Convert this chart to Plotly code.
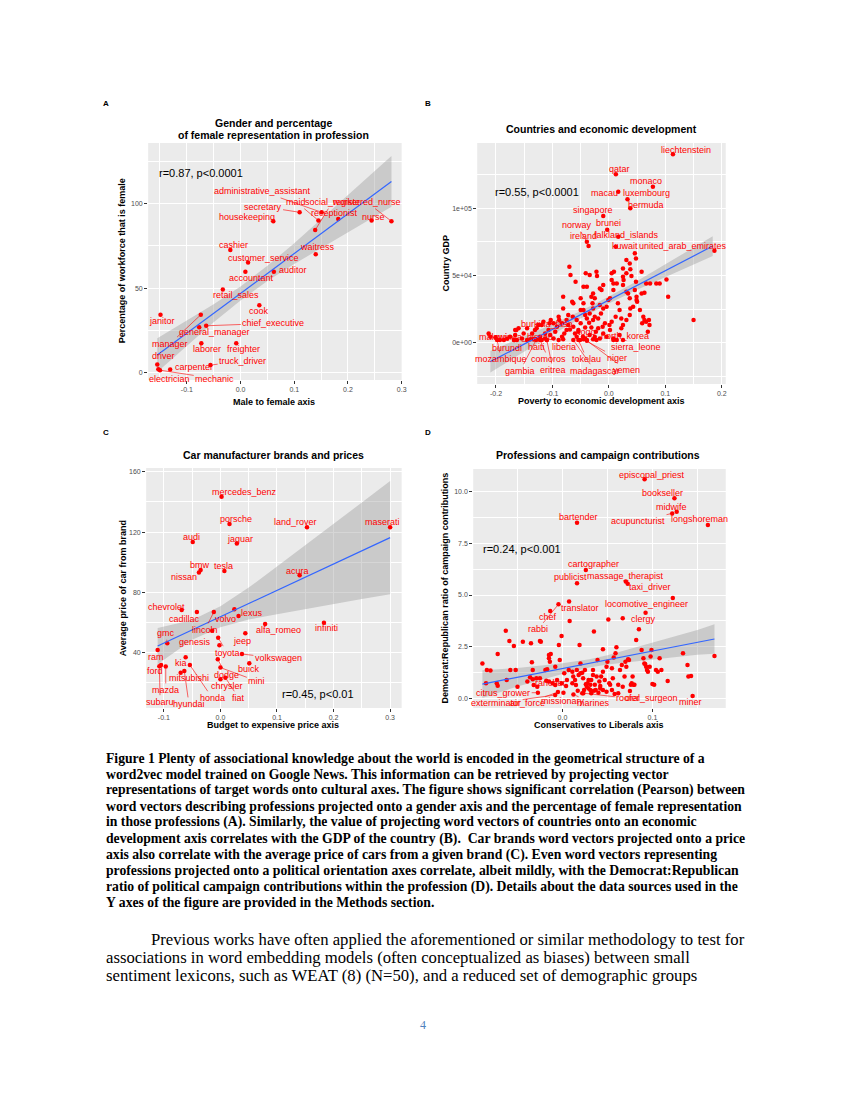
import plotly.graph_objects as go

# ---------------- DATA ----------------
# Panel A: gender axis vs % female in profession
A_names = ["administrative_assistant", "maid", "social_worker", "registered_nurse", "secretary",
           "receptionist", "nurse", "housekeeping", "cashier", "waitress", "customer_service",
           "accountant", "auditor", "retail_sales", "cook", "janitor", "manager", "general_manager",
           "chief_executive", "laborer", "freighter", "driver", "truck_driver", "carpenter",
           "electrician", "mechanic"]
A_x = [0.151, 0.145, 0.139, 0.281, 0.110, 0.182, 0.244, 0.061, -0.019, 0.140, 0.014, 0.009, 0.062,
       -0.033, 0.035, -0.149, -0.074, -0.077, -0.064, -0.073, -0.008, -0.155, -0.056, -0.131,
       -0.153, -0.150]
A_y = [94.8, 90.0, 84.3, 89.5, 94.8, 90.9, 89.9, 89.5, 72.6, 70.0, 65.1, 59.7, 59.7, 49.2, 39.9,
       34.3, 34.3, 27.0, 27.8, 17.5, 17.5, 5.0, 4.6, 2.0, 2.2, 1.6]
A_fit_x = [-0.155, -0.1, -0.05, 0.0, 0.05, 0.1, 0.15, 0.2, 0.25, 0.281]
A_fit_y = [10.5, 23.4, 35.2, 46.9, 58.7, 70.4, 82.2, 93.9, 105.7, 113.0]
A_lo = [0.5, 16.0, 29.9, 42.8, 54.2, 64.3, 73.8, 83.0, 92.3, 98.0]
A_hi = [20.5, 30.8, 40.5, 51.0, 63.2, 76.5, 90.6, 104.8, 119.1, 128.0]

# Panel B: poverty/development axis vs GDP
B_names = ["liechtenstein", "qatar", "monaco", "macau", "luxembourg", "bermuda", "singapore",
           "norway", "brunei", "ireland", "falkland_islands", "kuwait", "united_arab_emirates",
           "burkina_faso", "malawi", "guinea_bissau", "togo", "north_korea", "burundi", "haiti",
           "liberia", "sierra_leone", "mozambique", "comoros", "tokelau", "niger", "gambia",
           "eritrea", "madagascar", "yemen"]
B_x = [0.1135, 0.0124, 0.078, 0.0166, 0.033, 0.038, -0.010, -0.039, -0.003, -0.036, 0.0166, 0.0124,
       0.187, -0.128, -0.213, -0.166, -0.054, 0.008, -0.168, -0.134, -0.081, 0.025, -0.198, -0.122,
       -0.054, -0.045, -0.129, -0.110, -0.063, -0.039]
B_y = [140200, 125300, 116100, 112400, 106700, 100000, 94300, 75100, 84000, 72000, 78900, 71400,
       68500, 10700, 6900, 9400, 9400, 2000, 2000, 2500, 2500, 2000, 2000, 2000, 2000, 2500, 2000,
       2000, 2000, 1500]
B_other_x = [-0.070, -0.068, -0.041, -0.034, -0.059, -0.045, -0.039, -0.022, -0.021, -0.028, -0.031,
             -0.025, -0.016, -0.013, -0.010, 0.005, 0.008, 0.014, 0.025, 0.037, 0.046, 0.048, 0.038,
             0.040, 0.031, 0.025, 0.026, 0.019, 0.016, 0.008, 0.002, -0.001, -0.004, -0.014, -0.019,
             -0.028, -0.029, -0.034, -0.039, -0.045, -0.050, -0.063, -0.065, -0.081, -0.081, -0.089,
             -0.092, -0.098, -0.103, -0.105, -0.116, -0.119, -0.125, -0.131, -0.136, -0.145, -0.151,
             -0.160, -0.164, -0.166, -0.168, -0.163, -0.154, -0.175, -0.180, -0.186, -0.193, -0.201,
             -0.210, -0.110, -0.104, -0.098, -0.089, -0.083, -0.079, -0.075, -0.072, -0.069, -0.063,
             -0.060, -0.057, -0.054, -0.051, -0.046, -0.042, -0.039, -0.034, -0.028, -0.025, -0.022,
             -0.016, -0.010, -0.004, 0.002, 0.008, 0.014, 0.019, 0.022, 0.025, 0.031, 0.037, 0.038,
             0.043, 0.049, 0.050, 0.055, 0.059, 0.061, 0.063, 0.066, 0.069, 0.072, 0.071, 0.058,
             0.063, 0.066, 0.073, 0.084, 0.090, 0.102, 0.105, 0.150, 0.022, 0.012, 0.005, 0.001,
             -0.007, -0.011, -0.019, -0.023, -0.031, -0.035, -0.042, -0.050, -0.057, -0.064, -0.072,
             -0.075, -0.083, -0.088, -0.095, -0.107, -0.113, -0.122, -0.128, -0.133, -0.139, -0.145,
             -0.119, -0.113, -0.028, -0.016, -0.010, -0.025, 0.031, 0.034, 0.037, 0.046, 0.049, 0.048,
             0.058, 0.031, 0.025, 0.009, 0.005, -0.042, -0.045, -0.050]
B_other_y = [56500, 50300, 51600, 50300, 45400, 41700, 41700, 52800, 49600, 36700, 34200, 33000,
             40400, 39200, 42900, 51600, 44100, 44100, 42900, 59000, 66500, 62700, 54600, 49600,
             51600, 49100, 46600, 24300, 29300, 39200, 33000, 31700, 26800, 21800, 18100, 25500,
             29300, 21800, 18100, 29300, 24300, 29300, 30500, 34200, 25500, 19300, 11900, 14400,
             16900, 14400, 15600, 13100, 13100, 9400, 6900, 10700, 6900, 10700, 9400, 5700, 2000,
             2000, 3200, 4500, 3000, 2000, 2000, 4000, 4500, 2000, 5700, 3200, 2000, 4500, 6900,
             9400, 13100, 9900, 11900, 6900, 4500, 8200, 2000, 4500, 3200, 2000, 5700, 2500, 4500,
             2000, 3200, 6900, 4500, 9400, 3200, 2000, 5700, 10700, 13100, 16900, 20600, 25500,
             26800, 31700, 30500, 24300, 14400, 19300, 16900, 15600, 8200, 13100, 16900, 36700,
             37200, 44100, 44100, 44100, 44100, 47100, 34200, 16900, 18100, 19300, 15600, 13100,
             14400, 11900, 10700, 8200, 11400, 14900, 11400, 14400, 16900, 19300, 20600, 16900,
             14400, 16900, 8200, 9400, 6900, 4500, 2500, 2500, 2500, 2000, 2000, 3200, 16900, 28000,
             25500, 19300, 37900, 36700, 33000, 39200, 34200, 45400, 52800, 61500, 55300, 52800,
             46600, 20600, 24300, 33000]
B_fit_x = [-0.21, -0.15, -0.1, -0.05, 0.0, 0.05, 0.1, 0.15, 0.184]
B_fit_y = [-14100, -1000, 9900, 20800, 31700, 42700, 53600, 64500, 71900]
B_lo = [-22100, -6500, 6100, 18000, 29100, 39400, 49000, 58300, 64600]
B_hi = [-6100, 4500, 13700, 23600, 34300, 46000, 58200, 70700, 79200]

# Panel C: price axis vs average car price
C_names = ["mercedes_benz", "porsche", "land_rover", "maserati", "audi", "jaguar", "bmw", "tesla",
           "acura", "nissan", "chevrolet", "cadillac", "volvo", "lexus", "lincoln", "alfa_romeo",
           "infiniti", "gmc", "genesis", "jeep", "toyota", "volkswagen", "buick", "mini", "ram",
           "kia", "ford", "mazda", "mitsubishi", "dodge", "chrysler", "honda", "fiat", "subaru",
           "hyundai"]
C_x = [0.002, 0.016, 0.153, 0.300, -0.049, 0.029, -0.035, 0.007, 0.140, -0.038, -0.0685, -0.0416,
       0.0246, 0.032, -0.0117, 0.079, 0.183, -0.094, -0.0146, 0.044, -0.004, 0.038, 0.051, 0.000,
       -0.111, -0.0615, -0.105, -0.0967, -0.0703, -0.0047, 0.000, -0.054, 0.0088, -0.108, -0.0639]
C_y = [143.4, 125.3, 123.2, 123.2, 113.4, 112.5, 94.8, 94.2, 91.3, 93.1, 68.3, 67.0, 68.8, 64.4,
       67.0, 59.0, 59.8, 46.2, 54.6, 52.9, 49.9, 39.1, 33.0, 30.1, 41.8, 36.9, 31.9, 30.8, 26.7,
       35.6, 22.3, 31.8, 23.4, 31.0, 27.9]
C_other_x = [-0.0018]
C_other_y = [44.9]
C_fit_x = [-0.111, -0.05, 0.0, 0.05, 0.1, 0.15, 0.2, 0.25, 0.30]
C_fit_y = [44.4, 55.1, 63.8, 72.6, 81.3, 90.1, 98.8, 107.6, 116.3]
C_lo = [32.4, 48.6, 56.8, 62.0, 65.5, 69.1, 72.3, 75.6, 78.8]
C_hi = [56.4, 61.6, 70.8, 83.2, 97.1, 111.1, 125.3, 139.6, 153.8]

# Panel D: political axis vs Democrat:Republican contribution ratio
D_names = ["episcopal_priest", "bookseller", "midwife", "acupuncturist", "longshoreman", "bartender",
           "cartographer", "publicist", "massage_therapist", "taxi_driver", "translator",
           "locomotive_engineer", "chef", "clergy", "rabbi", "citrus_grower", "exterminator",
           "air_force", "missionary", "marines", "rancher", "roofer", "oral_surgeon", "miner"]
D_x = [0.0913, 0.1245, 0.127, 0.122, 0.1617, 0.0162, 0.026, 0.0162, 0.0704, 0.0725, 0.0074, 0.1227,
       -0.0136, 0.0924, -0.0044, -0.0273, -0.0081, -0.005, 0.0011, 0.0122, -0.018, 0.0232, 0.075,
       0.1447]
D_y = [10.6, 9.68, 9.03, 8.95, 8.39, 8.5, 6.21, 5.57, 5.65, 5.55, 4.68, 4.85, 4.22, 4.14, 4.55,
       0.27, 0.16, 0.30, 0.27, 0.18, 0.85, 0.25, 0.35, 0.11]
D_other_x = [-0.089, -0.080, -0.072, -0.072, -0.063, -0.059, -0.054, -0.052, -0.044, -0.039, -0.036,
             -0.033, -0.032, -0.029, -0.034, -0.035, -0.025, -0.024, -0.019, -0.017, -0.015, -0.015,
             -0.014, -0.013, -0.004, -0.003, -0.001, -0.001, 0.004, 0.005, 0.008, 0.011, 0.012, 0.014,
             0.016, 0.018, 0.020, 0.019, 0.020, 0.022, 0.023, 0.025, 0.027, 0.028, 0.029, 0.029, 0.031,
             0.031, 0.032, 0.034, 0.034, 0.035, 0.036, 0.037, 0.038, 0.039, 0.041, 0.042, 0.042, 0.043,
             0.045, 0.045, 0.047, 0.049, 0.050, 0.051, 0.052, 0.053, 0.055, 0.056, 0.057, 0.059, 0.060,
             0.062, 0.064, 0.066, 0.067, 0.067, 0.069, 0.070, 0.071, 0.073, 0.074, 0.076, 0.077, 0.078,
             0.079, 0.080, 0.082, 0.085, 0.088, 0.090, 0.091, 0.092, 0.093, 0.094, 0.095, 0.097, 0.098,
             0.099, 0.100, 0.102, 0.104, 0.106, 0.108, 0.110, 0.117, 0.134, 0.139, 0.140, 0.143, 0.169,
             -0.008, -0.011, -0.006, 0.002, 0.007, 0.011, 0.015, 0.017, 0.022, 0.024, 0.026, 0.032,
             0.035, 0.040, 0.045, 0.049, 0.055, 0.058, 0.062, -0.008, -0.015, -0.025, -0.028, -0.033,
             -0.050, -0.058, -0.062, -0.073, -0.084, -0.085]
D_other_y = [1.69, 1.34, 2.15, 0.61, 3.27, 2.77, 2.53, 1.37, 2.74, 0.81, 1.02, 0.92, 0.64, 0.97, 1.74,
             2.66, 2.77, 2.74, 1.37, 1.40, 2.10, 1.94, 1.77, 2.14, 2.58, 1.85, 3.02, 0.73, 0.60, 0.89,
             3.74, 0.73, 1.05, 0.89, 1.37, 1.13, 1.69, 2.58, 1.21, 1.24, 0.97, 1.37, 0.56, 0.73, 0.89,
             0.48, 0.65, 0.40, 0.89, 1.13, 1.37, 3.23, 0.65, 0.40, 1.05, 1.85, 0.81, 0.60, 0.48, 1.05,
             2.37, 1.29, 0.89, 1.53, 1.77, 3.82, 0.73, 0.65, 1.45, 0.97, 1.98, 2.18, 2.47, 0.65, 1.37,
             1.61, 3.87, 0.56, 1.05, 1.77, 1.53, 1.89, 1.85, 0.65, 0.73, 1.05, 0.65, 0.65, 2.82, 3.34,
             2.34, 1.94, 1.69, 1.66, 1.53, 1.37, 1.29, 1.53, 2.02, 2.34, 0.69, 0.65, 1.37, 1.29, 1.94,
             1.37, 0.84, 2.18, 1.61, 1.05, 1.08, 2.05, 0.64, 0.73, 0.89, 1.21, 1.37, 1.29, 0.64, 0.37,
             0.24, 0.40, 0.68, 0.24, 0.37, 0.27, 0.40, 0.32, 0.40, 0.21, 0.24, 1.53, 0.81, 0.97, 0.56,
             1.37, 0.56, 1.37, 0.89, 0.73, 1.37, 0.73]
D_fit_x = [-0.089, -0.05, 0.0, 0.03, 0.05, 0.1, 0.15, 0.169]
D_fit_y = [0.69, 1.02, 1.44, 1.69, 1.86, 2.29, 2.71, 2.87]
D_lo = [0.02, 0.57, 1.18, 1.49, 1.64, 1.89, 2.11, 2.16]
D_hi = [1.36, 1.47, 1.70, 1.89, 2.08, 2.69, 3.31, 3.58]

# tick labels
A_xticks = [-0.1, 0.0, 0.1, 0.2, 0.3]
A_xtext = ["-0.1", "0.0", "0.1", "0.2", "0.3"]
A_yticks = [0, 50, 100]
A_ytext = ["0", "50", "100"]
B_xticks = [-0.2, -0.1, 0.0, 0.1, 0.2]
B_xtext = ["-0.2", "-0.1", "0.0", "0.1", "0.2"]
B_yticks = [0, 50000, 100000]
B_ytext = ["0e+00", "5e+04", "1e+05"]
C_xticks = [-0.1, 0.0, 0.1, 0.2, 0.3]
C_xtext = ["-0.1", "0.0", "0.1", "0.2", "0.3"]
C_yticks = [40, 80, 120, 160]
C_ytext = ["40", "80", "120", "160"]
D_xticks = [-0.1, 0.0, 0.1]
D_xtext = ["-0.1", "0.0", "0.1"]
D_yticks = [0, 2.5, 5.0, 7.5, 10.0]
D_ytext = ["0.0", "2.5", "5.0", "7.5", "10.0"]

# ---------------- LABEL PLACEMENT (positions of repelled labels) ----------------
A_lx = [0.040, 0.104, 0.171, 0.235, 0.041, 0.175, 0.248, 0.012, -0.014, 0.144, 0.043, 0.021, 0.098,
        -0.008, 0.034, -0.146, -0.131, -0.048, 0.061, -0.062, 0.005, -0.144, 0.004, -0.086, -0.133,
        -0.048]
A_ly = [107.1, 100.8, 100.8, 100.8, 98.2, 94.2, 92.3, 91.8, 75.6, 74.4, 68.0, 56.1, 60.7, 45.8, 36.3,
        30.4, 17.3, 24.0, 29.3, 13.9, 13.9, 10.1, 7.0, 3.2, -3.4, -3.4]
A_seg = [1, 1, 1, 1, 1, 0, 0, 0, 0, 0, 0, 0, 0, 0, 0, 0, 1, 0, 1, 0, 0, 0, 1, 0, 0, 1]

B_lx = [0.137, 0.018, 0.0665, -0.007, 0.0665, 0.0665, -0.0287, -0.057, -0.001, -0.045, 0.031, 0.028,
        0.131, -0.110, -0.206, -0.151, -0.039, 0.028, -0.180, -0.128, -0.079, 0.048, -0.191, -0.107,
        -0.039, 0.0136, -0.157, -0.099, -0.025, 0.031]
B_ly = [143400, 129000, 120300, 111600, 111600, 102500, 98700, 87600, 88900, 79400, 80100, 72000,
        72000, 13900, 4460, 4460, 8200, 5200, -4200, -3000, -3000, -3000, -12100, -12100, -12100,
        -11200, -20800, -20300, -20800, -20300]
B_seg = [0, 0, 0, 0, 0, 0, 0, 1, 0, 0, 0, 0, 0, 1, 0, 0, 0, 0, 0, 0, 0, 1, 1, 1, 1, 1, 1, 1, 1, 1]

C_lx = [0.042, 0.028, 0.132, 0.287, -0.051, 0.034, -0.036, 0.006, 0.136, -0.064, -0.0955, -0.064,
        0.009, 0.0557, -0.0275, 0.1025, 0.1875, -0.0967, -0.045, 0.039, 0.0117, 0.1025, 0.050, 0.0644,
        -0.114, -0.070, -0.115, -0.0967, -0.0557, 0.010, 0.0117, -0.0146, 0.032, -0.1066, -0.0557]
C_ly = [146.4, 128.5, 126.8, 126.8, 116.5, 115.6, 98.4, 97.7, 94.4, 90.4, 70.5, 62.5, 62.5, 66.1,
        55.1, 55.1, 56.2, 52.9, 47.3, 47.7, 40.0, 36.3, 29.0, 21.2, 37.3, 33.0, 28.1, 15.3, 23.0,
        25.2, 17.9, 10.1, 10.1, 7.5, 6.0]
C_seg = [0, 0, 0, 0, 0, 0, 0, 0, 0, 0, 0, 0, 0, 0, 1, 0, 0, 1, 0, 0, 1, 1, 0, 1, 0, 0, 0, 1, 0, 1,
         0, 1, 1, 1, 1]

D_lx = [0.0994, 0.1116, 0.1208, 0.084, 0.152, 0.0177, 0.0343, 0.0085, 0.0704, 0.0976, 0.0195, 0.0932,
        -0.0162, 0.0902, -0.0273, -0.0659, -0.0737, -0.0394, 0.0004, 0.035, -0.0129, 0.0729, 0.0987,
        0.1429]
D_ly = [10.81, 9.92, 9.27, 8.58, 8.68, 8.76, 6.49, 5.86, 5.94, 5.37, 4.39, 4.56, 3.92, 3.82, 3.34,
        0.27, -0.24, -0.24, -0.12, -0.24, 0.73, 0.0, 0.0, -0.19]
D_seg = [0, 0, 0, 1, 0, 0, 0, 0, 0, 0, 0, 0, 0, 0, 1, 1, 1, 1, 0, 1, 0, 1, 0, 0]

# ---------------- LAYOUT GEOMETRY (page pixels) ----------------
OFF = 8  # default page margin of the HTML body
W, H = 850 - OFF, 1100 - OFF


def fx(p):
    return (p - OFF) / W


def fy(p):
    return 1 - (p - OFF) / H


panels = {
    "A": dict(ax="x", ay="y", dom=(149, 404, 143, 380), xr=[-0.172, 0.3], yr=[-4.2, 135.7],
              xt=(A_xticks, A_xtext), yt=(A_yticks, A_ytext), xminor=0.05, yminor=25),
    "B": dict(ax="x2", ay="y2", dom=(480, 730, 143, 384), xr=[-0.2333, 0.207], yr=[-30730, 148600],
              xt=(B_xticks, B_xtext), yt=(B_yticks, B_ytext), xminor=0.05, yminor=25000),
    "C": dict(ax="x3", ay="y3", dom=(147, 404, 468, 708), xr=[-0.1313, 0.3204], yr=[3.3, 162.5],
              xt=(C_xticks, C_xtext), yt=(C_yticks, C_ytext), xminor=0.05, yminor=20),
    "D": dict(ax="x4", ay="y4", dom=(476, 730, 469, 708), xr=[-0.0992, 0.1815], yr=[-0.47, 11.1],
              xt=(D_xticks, D_xtext), yt=(D_yticks, D_ytext), xminor=0.05, yminor=1.25),
}

RED = "#FF0000"
LINE_BLUE = "#3366FF"
BAND = "rgba(153,153,153,0.4)"
SANS = "Liberation Sans"
SERIF = "Liberation Serif"

fig = go.Figure()
annotations = []

series = {
    "A": (A_x, A_y, [], [], A_fit_x, A_fit_y, A_lo, A_hi, A_names, A_lx, A_ly, A_seg),
    "B": (B_x, B_y, B_other_x, B_other_y, B_fit_x, B_fit_y, B_lo, B_hi, B_names, B_lx, B_ly, B_seg),
    "C": (C_x, C_y, C_other_x, C_other_y, C_fit_x, C_fit_y, C_lo, C_hi, C_names, C_lx, C_ly, C_seg),
    "D": (D_x, D_y, D_other_x, D_other_y, D_fit_x, D_fit_y, D_lo, D_hi, D_names, D_lx, D_ly, D_seg),
}

layout_axes = {}
for key, p in panels.items():
    xs, ys, oxs, oys, fxs, fys, lo, hi, names, lxs, lys, segs = series[key]
    xa, ya = p["ax"], p["ay"]
    fig.add_trace(go.Scatter(x=list(fxs) + list(fxs)[::-1], y=list(hi) + list(lo)[::-1],
                             fill="toself", fillcolor=BAND, line=dict(width=0), mode="lines",
                             hoverinfo="skip", showlegend=False, xaxis=xa, yaxis=ya))
    fig.add_trace(go.Scatter(x=list(xs) + list(oxs), y=list(ys) + list(oys), mode="markers",
                             marker=dict(color=RED, size=4.5, line=dict(width=0)),
                             showlegend=False, xaxis=xa, yaxis=ya))
    fig.add_trace(go.Scatter(x=fxs, y=fys, mode="lines", line=dict(color=LINE_BLUE, width=1.2),
                             showlegend=False, xaxis=xa, yaxis=ya))
    for nm, px_, py_, lx, ly, sg in zip(names, xs, ys, lxs, lys, segs):
        if sg:
            annotations.append(dict(x=px_, y=py_, ax=lx, ay=ly, xref=xa, yref=ya, axref=xa, ayref=ya,
                                    text=nm, showarrow=True, arrowhead=0, arrowwidth=0.6,
                                    arrowcolor=RED, standoff=2,
                                    font=dict(size=9, color=RED, family=SANS)))
        else:
            annotations.append(dict(x=lx, y=ly, xref=xa, yref=ya, text=nm, showarrow=False,
                                    font=dict(size=9, color=RED, family=SANS)))
    x0, x1, y0, y1 = p["dom"]
    axname_x = "xaxis" if xa == "x" else "xaxis" + xa[1:]
    axname_y = "yaxis" if ya == "y" else "yaxis" + ya[1:]
    common = dict(showgrid=True, gridcolor="white", gridwidth=1, zeroline=False, showline=False,
                  ticks="outside", ticklen=3, tickwidth=0.8, tickcolor="#333333",
                  tickfont=dict(size=7, color="#4D4D4D", family=SANS), tickmode="array")
    layout_axes[axname_x] = dict(common, domain=[fx(x0), fx(x1)], range=p["xr"], anchor=ya,
                                 tickvals=p["xt"][0], ticktext=p["xt"][1],
                                 minor=dict(dtick=p["xminor"], tick0=0, showgrid=True,
                                            gridcolor="white", gridwidth=0.5, ticks=""))
    layout_axes[axname_y] = dict(common, domain=[fy(y1), fy(y0)], range=p["yr"], anchor=xa,
                                 tickvals=p["yt"][0], ticktext=p["yt"][1],
                                 minor=dict(dtick=p["yminor"], tick0=0, showgrid=True,
                                            gridcolor="white", gridwidth=0.5, ticks=""))


def paper_text(text, x, y, size, bold=False, family=SANS, angle=0, color="black",
               xanchor="center"):
    t = "<b>" + text + "</b>" if bold else text
    annotations.append(dict(x=fx(x), y=fy(y), xref="paper", yref="paper", text=t, showarrow=False,
                            textangle=angle, xanchor=xanchor, yanchor="middle",
                            font=dict(size=size, family=family, color=color)))


# correlation texts
annotations.append(dict(x=-0.073, y=117.7, xref="x", yref="y", text="r=0.87, p<0.0001",
                        showarrow=False, font=dict(size=11, family=SANS, color="black")))
annotations.append(dict(x=-0.128, y=112400, xref="x2", yref="y2", text="r=0.55, p<0.0001",
                        showarrow=False, font=dict(size=11, family=SANS, color="black")))
annotations.append(dict(x=0.172, y=12.6, xref="x3", yref="y3", text="r=0.45, p<0.01",
                        showarrow=False, font=dict(size=11, family=SANS, color="black")))
annotations.append(dict(x=-0.045, y=7.21, xref="x4", yref="y4", text="r=0.24, p<0.001",
                        showarrow=False, font=dict(size=11, family=SANS, color="black")))

# panel titles
paper_text("Gender and percentage", 275, 123.5, 10.5, bold=True)
paper_text("of female representation in profession", 275, 134.5, 10.5, bold=True)
paper_text("Countries and economic development", 605, 129, 10.5, bold=True)
paper_text("Car manufacturer brands and prices", 275.5, 455, 10.5, bold=True)
paper_text("Professions and campaign contributions", 602, 455, 10.5, bold=True)

# axis titles
paper_text("Male to female axis", 276, 402, 9, bold=True)
paper_text("Percentage of workforce that is female", 123, 261, 9, bold=True, angle=-90)
paper_text("Poverty to economic development axis", 605, 401, 9, bold=True)
paper_text("Country GDP", 449, 263, 9, bold=True, angle=-90)
paper_text("Budget to expensive price axis", 275, 725, 9, bold=True)
paper_text("Average price of car from brand", 124, 588, 9, bold=True, angle=-90)
paper_text("Conservatives to Liberals axis", 603, 725, 9, bold=True)
paper_text("Democrat:Republican ratio of campaign contributions", 448, 588, 9, bold=True, angle=-90)

# panel letters
paper_text("A", 107, 103, 8, bold=True)
paper_text("B", 431, 103, 8, bold=True)
paper_text("C", 107, 433, 8, bold=True)
paper_text("D", 431, 433, 8, bold=True)

# caption
caption = [
    "Figure 1 Plenty of associational knowledge about the world is encoded in the geometrical structure of a",
    "word2vec model trained on Google News. This information can be retrieved by projecting vector",
    "representations of target words onto cultural axes. The figure shows significant correlation (Pearson) between",
    "word vectors describing professions projected onto a gender axis and the percentage of female representation",
    "in those professions (A). Similarly, the value of projecting word vectors of countries onto an economic",
    "development axis correlates with the GDP of the country (B).&nbsp; Car brands word vectors projected onto a price",
    "axis also correlate with the average price of cars from a given brand (C). Even word vectors representing",
    "professions projected onto a political orientation axes correlate, albeit mildly, with the Democrat:Republican",
    "ratio of political campaign contributions within the profession (D). Details about the data sources used in the",
    "Y axes of the figure are provided in the Methods section.",
]
for i, line in enumerate(caption):
    paper_text(line, 105, 758 + i * 16.1, 13.7, bold=True, family=SERIF, xanchor="left")

body = [
    ("Previous works have often applied the aforementioned or similar methodology to test for", 150),
    ("associations in word embedding models (often conceptualized as biases) between small", 105),
    ("sentiment lexicons, such as WEAT (8) (N=50), and a reduced set of demographic groups", 105),
]
for i, (line, x0) in enumerate(body):
    paper_text(line, x0, 939 + i * 18.2, 16.7, family=SERIF, xanchor="left")

paper_text("4", 425, 1025, 12, family=SERIF, color="#4F81BD")

fig.update_layout(width=W, height=H, margin=dict(l=0, r=0, t=0, b=0), paper_bgcolor="white",
                  plot_bgcolor="#EBEBEB", showlegend=False, annotations=annotations, **layout_axes)

fig.write_html("out.html")
